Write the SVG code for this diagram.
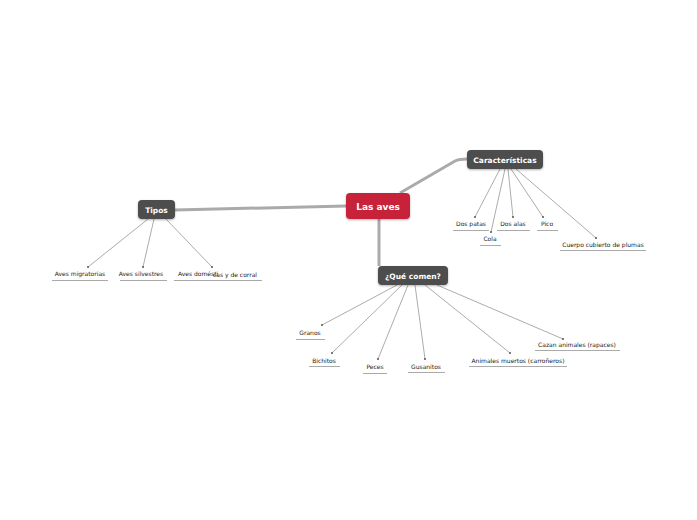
<svg xmlns="http://www.w3.org/2000/svg" width="697" height="520" viewBox="0 0 697 520">
<defs>
<marker id="dot" markerWidth="4" markerHeight="4" refX="2" refY="2" markerUnits="userSpaceOnUse"><circle cx="2" cy="2" r="1" fill="#555"/></marker>
<filter id="sh" x="-20%" y="-20%" width="140%" height="160%"><feDropShadow dx="0" dy="1" stdDeviation="1" flood-opacity="0.3"/></filter>
</defs>
<style>
.main{fill:none;stroke:#aaa;stroke-width:3}
.sub{fill:none;stroke:#888;stroke-width:0.7;marker-end:url(#dot)}
.ul{stroke:#aaa;stroke-width:1}
.nt{font-family:"DejaVu Sans",sans-serif;font-weight:bold;fill:#fff;text-anchor:middle}
.lt{font-family:"DejaVu Sans",sans-serif;font-size:6px;fill:#222;text-anchor:middle}
</style>
<rect width="697" height="520" fill="#fff"/>
<g id="connectors">
<path class="main" d="M346,206 L175,210"/>
<path class="main" d="M400,193 L455,161 Q459,159 467,159"/>
<path class="main" d="M379,219 L379,266"/>
<path class="sub" d="M500,169 L475,217"/>
<path class="sub" d="M505,169 L491,232"/>
<path class="sub" d="M508,169 L513,217"/>
<path class="sub" d="M511,169 L543,217"/>
<path class="sub" d="M516,169 L596,238"/>
<path class="sub" d="M148,219 L88,267"/>
<path class="sub" d="M154,219 L143,267"/>
<path class="sub" d="M166,219 L212,267"/>
<path class="sub" d="M397,285 L322,325"/>
<path class="sub" d="M402,285 L332,353"/>
<path class="sub" d="M408,285 L378,359"/>
<path class="sub" d="M415,285 L425,359"/>
<path class="sub" d="M425,285 L510,353"/>
<path class="sub" d="M437,285 L563,339"/>
</g>
<g id="n-lasaves"><rect x="346" y="193" width="64" height="26" rx="4" fill="#c8203a" filter="url(#sh)"/><text class="nt" x="378" y="210" font-size="9">Las aves</text></g>
<g id="n-caract"><rect x="467" y="150" width="76" height="19" rx="4" fill="#4d4d4d" filter="url(#sh)"/><text class="nt" x="505" y="163" font-size="7.5">Características</text></g>
<g id="n-tipos"><rect x="138" y="200" width="37" height="19" rx="4" fill="#4d4d4d" filter="url(#sh)"/><text class="nt" x="156.5" y="213" font-size="7.5">Tipos</text></g>
<g id="n-comen"><rect x="378" y="266" width="70" height="19" rx="4" fill="#4d4d4d" filter="url(#sh)"/><text class="nt" x="413" y="279" font-size="7.5">¿Qué comen?</text></g>
<g id="l-dospatas"><text class="lt" x="471" y="226">Dos patas</text><line class="ul" x1="453" y1="230.5" x2="489" y2="230.5"/></g>
<g id="l-cola"><text class="lt" x="490" y="241">Cola</text><line class="ul" x1="480" y1="245.5" x2="501" y2="245.5"/></g>
<g id="l-dosalas"><text class="lt" x="513" y="226">Dos alas</text><line class="ul" x1="497" y1="230.5" x2="530" y2="230.5"/></g>
<g id="l-pico"><text class="lt" x="547" y="226">Pico</text><line class="ul" x1="537" y1="230.5" x2="558" y2="230.5"/></g>
<g id="l-cuerpo"><text class="lt" x="603" y="247">Cuerpo cubierto de plumas</text><line class="ul" x1="560" y1="250.5" x2="646" y2="250.5"/></g>
<g id="l-migr"><text class="lt" x="80" y="276">Aves migratorias</text><line class="ul" x1="52" y1="280.5" x2="108" y2="280.5"/></g>
<g id="l-silv"><text class="lt" x="141" y="276">Aves silvestres</text><line class="ul" x1="120" y1="280.5" x2="167" y2="280.5"/></g>
<g id="l-dom"><text class="lt" x="178" y="276" text-anchor="start" style="text-anchor:start">Aves domésti</text><text class="lt" x="213" y="277" style="text-anchor:start">cas y de corral</text><line class="ul" x1="174" y1="280.5" x2="262" y2="280.5"/></g>
<g id="l-granos"><text class="lt" x="310" y="335">Granos</text><line class="ul" x1="296" y1="339.5" x2="325" y2="339.5"/></g>
<g id="l-bichitos"><text class="lt" x="324" y="363">Bichitos</text><line class="ul" x1="309" y1="366.5" x2="340" y2="366.5"/></g>
<g id="l-peces"><text class="lt" x="375" y="369">Peces</text><line class="ul" x1="363" y1="373.5" x2="387" y2="373.5"/></g>
<g id="l-gusanitos"><text class="lt" x="426" y="369">Gusanitos</text><line class="ul" x1="408" y1="372.5" x2="445" y2="372.5"/></g>
<g id="l-muertos"><text class="lt" x="518" y="363">Animales muertos (carroñeros)</text><line class="ul" x1="469" y1="366.5" x2="567" y2="366.5"/></g>
<g id="l-cazan"><text class="lt" x="577" y="347">Cazan animales  (rapaces)</text><line class="ul" x1="535" y1="350.5" x2="620" y2="350.5"/></g>
</svg>
